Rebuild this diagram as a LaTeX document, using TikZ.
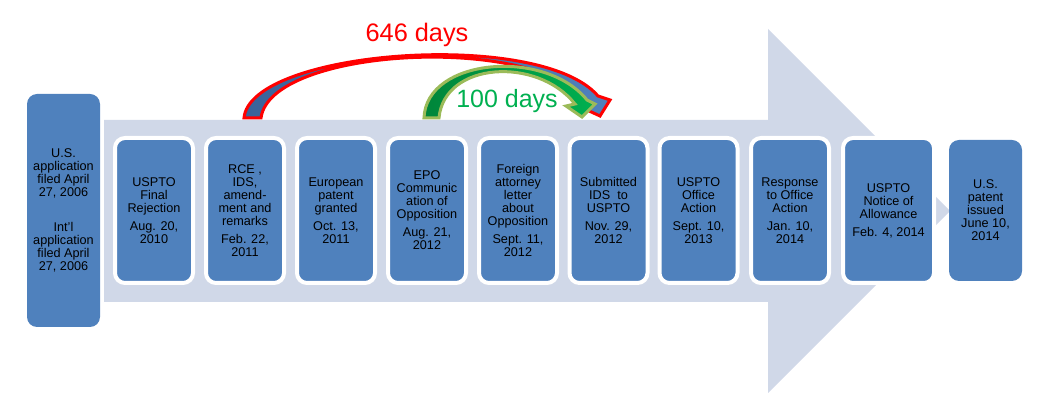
\documentclass[tikz,border=0pt]{standalone}
\usepackage{fontspec}
\setmainfont{Liberation Sans}
\definecolor{boxblue}{HTML}{4F81BD}
\definecolor{arrowgray}{HTML}{D0D8E8}
\definecolor{darkblue}{HTML}{3A6399}
\definecolor{gborder}{HTML}{9BBB59}
\definecolor{gdark}{HTML}{00853A}
\definecolor{glight}{HTML}{00B050}
\begin{document}
\begin{tikzpicture}[x=0.75pt,y=-0.75pt,inner sep=0pt,
  evt/.style={rectangle, rounded corners=7.5pt, fill=boxblue, draw=white, line width=3pt,
    minimum width=58.5pt, minimum height=108.75pt, align=center,
    font=\fontsize{9.5}{9.75}\selectfont},
  side/.style={evt, draw=none, minimum width=54.75pt, minimum height=105.75pt}]
\useasboundingbox (0,0) rectangle (1040,409);

% big background arrow
\fill[arrowgray] (104,120) -- (768,120) -- (768,29) -- (950,211) -- (768,393)
  -- (768,302) -- (104,302) -- cycle;

\node[side, minimum height=174.75pt](us) at (63.5,210.5) {U.S.\\application\\filed April\\27, 2006\\[17pt]Int’l\\application\\filed April\\27, 2006};
\node[evt](fr) at (154,210.5) {USPTO\\Final\\Rejection\\[3.75pt]Aug. 20,\\2010};
\node[evt](rce) at (245,210.5) {RCE ,\\IDS,\\amend-\\ment and\\remarks\\[3.75pt]Feb. 22,\\2011};
\node[evt](ep) at (336,210.5) {European\\patent\\granted\\[3.75pt]Oct. 13,\\2011};
\node[evt](epo) at (427,210.5) {EPO\\Communic\\ation of\\Opposition\\[3.75pt]Aug. 21,\\2012};
\node[evt](fa) at (518,210.5) {Foreign\\attorney\\letter\\about\\Opposition\\[3.75pt]Sept. 11,\\2012};
\node[evt](ids) at (608.5,210.5) {Submitted\\IDS\ \ to\\USPTO\\[3.75pt]Nov. 29,\\2012};
\node[evt](oa) at (698.5,210.5) {USPTO\\Office\\Action\\[3.75pt]Sept. 10,\\2013};
\node[evt](resp) at (790,210.5) {Response\\to Office\\Action\\[3.75pt]Jan. 10,\\2014};
\node[evt, minimum width=68.25pt](noa) at (888.5,210.5) {USPTO\\Notice of\\Allowance\\[3.75pt]Feb. 4, 2014};
\node[side](pat) at (985.5,210.5) {U.S.\\patent\\issued\\June 10,\\2014};

% curved arrows
\path[draw=red, line width=2.25pt, line join=miter, left color=darkblue, right color=boxblue]
  (244,118) .. controls (250,50) and (540,28) .. (598,96) -- (610,100) -- (600,116)
  -- (574,104) -- (584,99) .. controls (530,34) and (270,48) .. (261,118) -- cycle;
\path[draw=gborder, line width=2.25pt, line join=miter, left color=gdark, right color=glight]
  (424,118) .. controls (426,58) and (545,48) .. (587,100) -- (595,104) -- (582,117)
  -- (566,106) -- (575,104) .. controls (537,56) and (444,62) .. (439,118) -- cycle;

\node[text=red, font=\fontsize{19}{19}\selectfont](d646) at (417,35) {646 days};
\node[text=glight, font=\fontsize{18.75}{18.75}\selectfont](d100) at (507,101.5) {100 days};

\end{tikzpicture}
\end{document}
